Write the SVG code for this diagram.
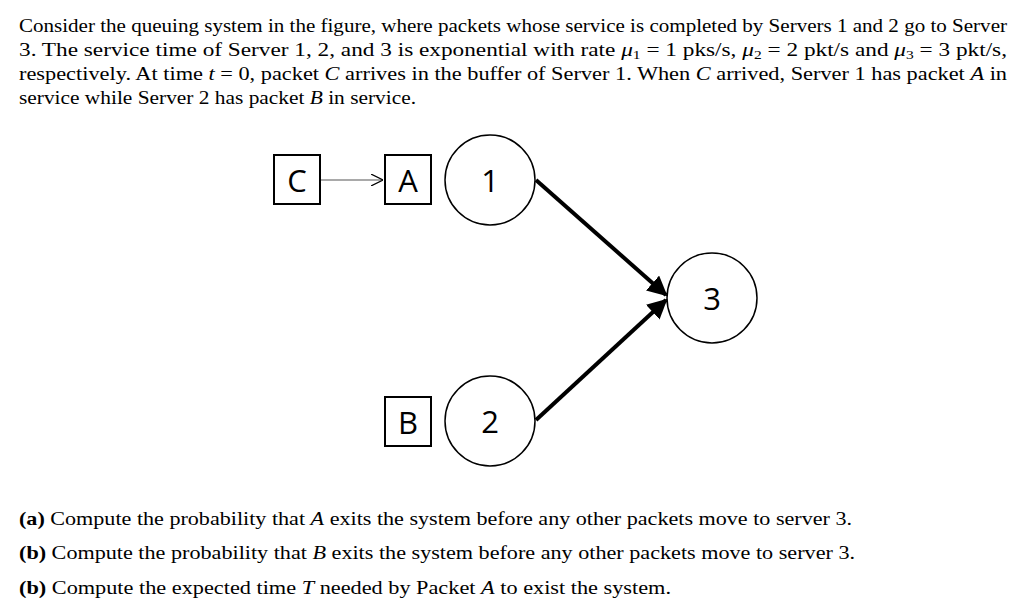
<svg xmlns="http://www.w3.org/2000/svg" width="1024" height="615" viewBox="0 0 1024 615">
<style>
.t{font-family:"Liberation Serif","DejaVu Serif",serif;font-size:19.5px;fill:#000}
.i{font-style:italic}
.b{font-weight:bold}
.n{font-family:"Open Sans","Liberation Sans",sans-serif;font-size:31px;fill:#000;text-anchor:middle}
.box{fill:#fff;stroke:#000;stroke-width:2}
.cir{fill:#fff;stroke:#000;stroke-width:1.5}
</style>
<defs>
<marker id="open" viewBox="0 0 10 10" refX="10" refY="5" markerWidth="12" markerHeight="12" markerUnits="userSpaceOnUse" orient="auto"><path d="M0,0 L10,5 L0,10" fill="none" stroke="#000" stroke-width="1"/></marker>
<marker id="solid" viewBox="0 0 10 10" refX="9" refY="5" markerWidth="5" markerHeight="5" orient="auto"><path d="M0,0 L10,5 L0,10 z" fill="#000"/></marker>
</defs>
<rect width="1024" height="615" fill="#fff"/>
<g id="text">
<text class="t" x="19" y="32" textLength="988" lengthAdjust="spacingAndGlyphs">Consider the queuing system in the figure, where packets whose service is completed by Servers 1 and 2 go to Server</text>
<text class="t" x="19" y="56" textLength="988" lengthAdjust="spacingAndGlyphs">3. The service time of Server 1, 2, and 3 is exponential with rate <tspan class="i">μ</tspan><tspan font-size="13" dy="3">1</tspan><tspan dy="-3"> = 1 pks/s, </tspan><tspan class="i">μ</tspan><tspan font-size="13" dy="3">2</tspan><tspan dy="-3"> = 2 pkt/s and </tspan><tspan class="i">μ</tspan><tspan font-size="13" dy="3">3</tspan><tspan dy="-3"> = 3 pkt/s,</tspan></text>
<text class="t" x="19" y="80" textLength="988" lengthAdjust="spacingAndGlyphs">respectively. At time <tspan class="i">t</tspan> = 0, packet <tspan class="i">C</tspan> arrives in the buffer of Server 1. When <tspan class="i">C</tspan> arrived, Server 1 has packet <tspan class="i">A</tspan> in</text>
<text class="t" x="19" y="104" textLength="397" lengthAdjust="spacingAndGlyphs">service while Server 2 has packet <tspan class="i">B</tspan> in service.</text>
<text class="t" x="19" y="525" textLength="833" lengthAdjust="spacingAndGlyphs"><tspan class="b">(a)</tspan> Compute the probability that <tspan class="i">A</tspan> exits the system before any other packets move to server 3.</text>
<text class="t" x="19" y="559" textLength="836" lengthAdjust="spacingAndGlyphs"><tspan class="b">(b)</tspan> Compute the probability that <tspan class="i">B</tspan> exits the system before any other packets move to server 3.</text>
<text class="t" x="19" y="594" textLength="652" lengthAdjust="spacingAndGlyphs"><tspan class="b">(b)</tspan> Compute the expected time <tspan class="i">T</tspan> needed by Packet <tspan class="i">A</tspan> to exist the system.</text>
</g>
<g id="connectors">
<line x1="321" y1="180" x2="383" y2="180" stroke="#555" stroke-width="1.2" marker-end="url(#open)"/>
<line x1="536" y1="180" x2="666" y2="295" stroke="#000" stroke-width="4" marker-end="url(#solid)"/>
<line x1="536" y1="420" x2="666" y2="300" stroke="#000" stroke-width="4" marker-end="url(#solid)"/>
</g>
<g id="C"><rect class="box" x="274" y="155" width="46" height="49"/><text class="n" x="297" y="192">C</text></g>
<g id="A"><rect class="box" x="385" y="155" width="46" height="49"/><text class="n" x="408" y="192">A</text></g>
<g id="B"><rect class="box" x="385" y="397" width="46" height="49"/><text class="n" x="408" y="434">B</text></g>
<g id="s1"><circle class="cir" cx="490" cy="180" r="45"/><text class="n" x="490" y="192">1</text></g>
<g id="s2"><circle class="cir" cx="490" cy="421" r="45"/><text class="n" x="490" y="433">2</text></g>
<g id="s3"><circle class="cir" cx="712" cy="298" r="45"/><text class="n" x="712" y="310">3</text></g>
</svg>
